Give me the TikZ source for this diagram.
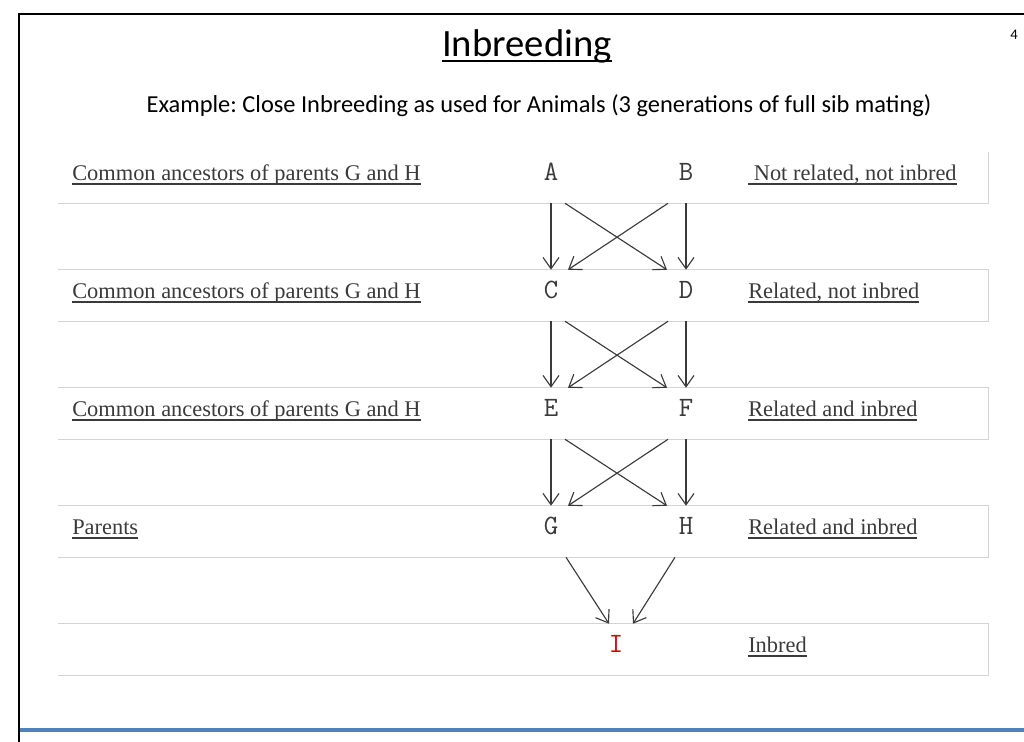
\documentclass[tikz,border=0pt]{standalone}
\usepackage{fontspec}
\setmainfont{Liberation Serif}
\newfontfamily\slidefont{Carlito}
\newfontfamily\genfont{Latin Modern Mono}
\usetikzlibrary{arrows.meta}
\definecolor{slideblue}{HTML}{4F81BD}
\definecolor{rowgray}{HTML}{D4D4D4}
\definecolor{inkgray}{HTML}{3A3A3A}
\newcommand{\lineunder}[3]{\setbox0\hbox{#1}\rlap{\rule[-#2]{\wd0}{#3}}\box0}
\frenchspacing
\begin{document}
\begin{tikzpicture}[x=0.75pt, y=-0.75pt,
    row/.style={minimum width=697.5pt, minimum height=38.25pt, inner sep=0pt},
    rowline/.style={draw=rowgray, line width=1.1pt},
    gen/.style={font=\genfont\fontsize{21}{22}\selectfont, text=inkgray, anchor=base, inner sep=0pt},
    lab/.style={font=\fontsize{16.8}{20}\selectfont, text=inkgray, anchor=base west, inner sep=0pt},
    link/.style={draw=inkgray, line width=0.85pt, -{Straight Barb[length=8.5pt, width=12pt]}}]
    \useasboundingbox (0,0) rectangle (1024,742);
    % slide frame and footer rule
    \draw[line width=2.2pt] (19,742) -- (19,14) -- (1024,14);
    \draw[slideblue, line width=2.4pt] (20,730) -- (1024,730);
    \node[font=\slidefont\fontsize{29}{32}\selectfont, anchor=base, inner sep=0pt] (title) at (527,57) {\lineunder{Inbreeding}{4pt}{2pt}};
    \node[font=\slidefont\fontsize{18.3}{22}\selectfont, anchor=base, inner sep=0pt] (sub) at (539,113) {Example: Close Inbreeding as used for Animals (3 generations of full sib mating)};
    \node[font=\slidefont\fontsize{11}{12}\selectfont, anchor=base, inner sep=0pt] (page) at (1014,40) {4};
    % table rows
    \foreach \k in {1,...,5} \node[row] (row\k) at (523, {177.5+118*(\k-1)}) {};
    \draw[rowline] (row1.south west) -- (row1.south east) -- (row1.north east);
    \foreach \k in {2,...,5} \draw[rowline] (row\k.north west) -- (row\k.north east) -- (row\k.south east) -- (row\k.south west);
    % generations
    \foreach \a/\b/\k in {A/B/1, C/D/2, E/F/3, G/H/4} {
        \node[gen] (\a) at (551, {180.5+118*(\k-1)}) {\a};
        \node[gen] (\b) at (686, {180.5+118*(\k-1)}) {\b};
    }
    \node[gen, text=red!85!black] (I) at (616, 652.5) {I};
    % left and right labels
    \node[lab] (anc1) at (72,180.5) {\lineunder{Common ancestors of parents G and H}{3pt}{1.1pt}};
    \node[lab] (anc2) at (72,298.5) {\lineunder{Common ancestors of parents G and H}{3pt}{1.1pt}};
    \node[lab] (anc3) at (72,416.5) {\lineunder{Common ancestors of parents G and H}{3pt}{1.1pt}};
    \node[lab] (par) at (72,534.5) {\lineunder{Parents}{3pt}{1.1pt}};
    \node[lab] (st1) at (748,180.5) {\lineunder{\ Not related, not inbred}{3pt}{1.1pt}};
    \node[lab] (st2) at (748,298.5) {\lineunder{Related, not inbred}{3pt}{1.1pt}};
    \node[lab] (st3) at (748,416.5) {\lineunder{Related and inbred}{3pt}{1.1pt}};
    \node[lab] (st4) at (748,534.5) {\lineunder{Related and inbred}{3pt}{1.1pt}};
    \node[lab] (st5) at (748,652.5) {\lineunder{Inbred}{3pt}{1.1pt}};
    % full sib matings
    \foreach \a/\b/\c/\d/\k/\n in {A/B/C/D/1/2, C/D/E/F/2/3, E/F/G/H/3/4} {
        \draw[link] (\a |- row\k.south) -- (\c |- row\n.north);
        \draw[link] (\b |- row\k.south) -- (\d |- row\n.north);
        \draw[link] ([xshift=10.5pt]\a |- row\k.south) -- ([xshift=-14.25pt]\d |- row\n.north);
        \draw[link] ([xshift=-13.5pt]\b |- row\k.south) -- ([xshift=12.75pt]\c |- row\n.north);
    }
    \draw[link] ([xshift=11.25pt]G |- row4.south) -- ([xshift=-5.25pt]I |- row5.north);
    \draw[link] ([xshift=-8.25pt]H |- row4.south) -- ([xshift=12.75pt]I |- row5.north);
\end{tikzpicture}
\end{document}
